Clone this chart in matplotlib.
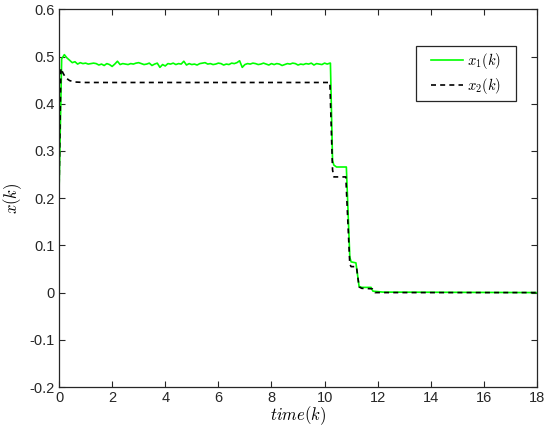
import matplotlib
matplotlib.use("Agg")
import matplotlib.pyplot as plt
from matplotlib.legend_handler import HandlerLine2D
from matplotlib.lines import Line2D
import numpy as np

# x1(k): noisy plateau sampled every 0.1 from t=0 to t=10.2, then the steps down to 0
t1_head = [round(0.1 * i, 1) for i in range(103)]
x1_head = [0.21, 0.495, 0.504, 0.497, 0.492, 0.487, 0.489, 0.484, 0.487, 0.485,
           0.486, 0.484, 0.485, 0.486, 0.485, 0.482, 0.484, 0.481, 0.485, 0.483,
           0.479, 0.484, 0.490, 0.483, 0.485, 0.484, 0.483, 0.485, 0.484, 0.486,
           0.487, 0.485, 0.483, 0.484, 0.486, 0.481, 0.484, 0.486, 0.477, 0.483,
           0.480, 0.485, 0.484, 0.486, 0.483, 0.485, 0.484, 0.490, 0.482, 0.485,
           0.483, 0.484, 0.482, 0.485, 0.486, 0.487, 0.484, 0.485, 0.483, 0.484,
           0.486, 0.485, 0.482, 0.484, 0.483, 0.486, 0.485, 0.487, 0.491, 0.477,
           0.483, 0.485, 0.484, 0.486, 0.485, 0.483, 0.484, 0.486, 0.484, 0.482,
           0.485, 0.483, 0.485, 0.484, 0.481, 0.483, 0.485, 0.484, 0.486, 0.485,
           0.482, 0.484, 0.483, 0.485, 0.484, 0.486, 0.482, 0.485, 0.484, 0.483,
           0.486, 0.484, 0.486]
t1_tail = [10.22, 10.3, 10.35, 10.45, 10.82, 10.95, 11.0, 11.18, 11.3, 11.4,
           11.75, 11.82, 12.2, 18.0]
x1_tail = [0.486, 0.28, 0.27, 0.266, 0.266, 0.075, 0.065, 0.063, 0.013, 0.011,
           0.011, 0.003, 0.001, 0.0]

# x2(k)
t2 = [0.0, 0.07, 0.15, 0.25, 0.4, 0.6, 1.0, 10.2, 10.3, 10.35, 10.8, 10.95,
      11.0, 11.2, 11.3, 11.4, 11.8, 11.9, 18.0]
x2 = [0.21, 0.475, 0.465, 0.455, 0.449, 0.446, 0.445, 0.445, 0.26, 0.245,
      0.245, 0.06, 0.055, 0.055, 0.012, 0.009, 0.008, 0.0, 0.0]

xticks = np.arange(0, 19, 2)
yticks = [-0.2, -0.1, 0, 0.1, 0.2, 0.3, 0.4, 0.5, 0.6]
ytick_labels = ['-0.2', '-0.1', '0', '0.1', '0.2', '0.3', '0.4', '0.5', '0.6']

plt.rcParams['font.family'] = ['Liberation Sans', 'DejaVu Sans']
plt.rcParams['mathtext.fontset'] = 'cm'

fig = plt.figure(figsize=(5.5, 4.37), dpi=100)
ax = fig.add_axes([0.1073, 0.1144, 0.8691, 0.8643])

ax.plot(t1_head + t1_tail, x1_head + x1_tail, color='#00ff00', lw=1.2,
        label='$x_1(k)$   ')
ax.plot(t2, x2, color='black', lw=1.2, ls=(0, (3, 2.5)), label='$x_2(k)$   ')

ax.set_xlim(0, 18)
ax.set_ylim(-0.2, 0.6)
ax.set_xticks(xticks)
ax.set_yticks(yticks)
ax.set_yticklabels(ytick_labels)
ax.tick_params(direction='in', top=True, right=True, length=4, width=0.8,
               labelsize=10.5, colors='#262626', pad=3)
for s in ax.spines.values():
    s.set_color('#262626')
    s.set_linewidth(0.9)

ax.set_xlabel('$time(k)$', fontsize=12, labelpad=-1)
ax.set_ylabel('$x(k)$', fontsize=12, labelpad=4)

leg = ax.legend(loc='upper right', bbox_to_anchor=(0.956, 0.903), fontsize=10.5,
                fancybox=False, framealpha=1, edgecolor='#262626',
                handlelength=2.9, handletextpad=0.3, borderpad=0.35,
                labelspacing=0.35, borderaxespad=0,
                handler_map={Line2D: HandlerLine2D(xpad=0.7)})
leg.get_frame().set_linewidth(0.9)

fig.savefig('out.png', dpi=100)
